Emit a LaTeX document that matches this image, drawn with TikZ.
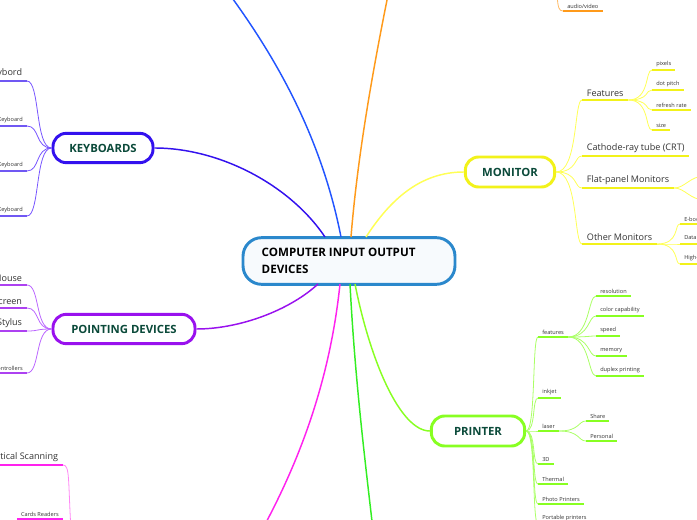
\documentclass[tikz,border=0pt]{standalone}
\usepackage{fontspec}
\setmainfont{Open Sans}
\usetikzlibrary{calc}
\definecolor{ctr}{HTML}{2B88CC}
\definecolor{kb}{HTML}{3311EE}
\definecolor{kbl}{HTML}{7755FF}
\definecolor{pd}{HTML}{9911EE}
\definecolor{pdl}{HTML}{BB66FF}
\definecolor{mo}{HTML}{F2F21A}
\definecolor{mol}{HTML}{FFFF55}
\definecolor{pr}{HTML}{88FF22}
\definecolor{prl}{HTML}{AAFF66}
\definecolor{mg}{HTML}{FF22EE}
\definecolor{mgl}{HTML}{FF88F5}
\definecolor{gr}{HTML}{33EE22}
\definecolor{bl}{HTML}{2255FF}
\definecolor{or}{HTML}{FF9A1A}
\definecolor{orl}{HTML}{FFBB66}
\definecolor{tt}{HTML}{0B4A3A}
\definecolor{lt}{HTML}{333333}
\tikzset{
  title/.style={draw, line width=2.2pt, rounded corners=10pt, fill=white, text=tt,
    font=\fontsize{8.5pt}{10pt}\selectfont\bfseries, inner sep=0pt},
  lab/.style={inner xsep=3.5pt, inner ysep=2pt, text=lt, font=\fontsize{6.8pt}{8pt}\selectfont},
  sml/.style={inner xsep=3pt, inner ysep=2pt, text=lt, font=\fontsize{4.2pt}{5pt}\selectfont},
  ul/.style={line width=1.3pt},
  cn/.style={line width=0.6pt},
  br/.style={line width=1.1pt},
}
\begin{document}
\begin{tikzpicture}[x=0.75pt,y=-0.75pt]
\useasboundingbox (0,0) rectangle (697,520);
% center
\node[draw=ctr, line width=2.2pt, rounded corners=14pt, fill=ctr!4, minimum width=159pt, minimum height=35pt, inner sep=0pt] (c) at (349,261) {};
\node[anchor=west, text=black, font=\fontsize{8.7pt}{12.5pt}\selectfont\bfseries, align=left] (ct) at (257,261) {COMPUTER INPUT OUTPUT\\DEVICES};
% offscreen targets
\coordinate (blT) at (230,-5);
\coordinate (orT) at (388,-5);
\coordinate (mgT) at (262,530);
\coordinate (grT) at (373,530);
% main branches
\draw[br, bl] (341,237) .. controls (320,130) and (270,50) .. (blT);
\draw[br, or] (351,237) .. controls (358,150) and (375,60) .. (orT);
\draw[br, mg] (340,284) .. controls (330,380) and (300,460) .. (mgT);
\draw[br, gr] (350,284) .. controls (355,380) and (365,460) .. (grT);

\node[title, draw=kb, minimum width=75pt, minimum height=22pt] (kbn) at (103,148) {KEYBOARDS};
\node[title, draw=pd, minimum width=106.5pt, minimum height=22pt] (pdn) at (124,329) {POINTING DEVICES};
\node[title, draw=mo, minimum width=67pt, minimum height=22.5pt] (mon) at (510,172) {MONITOR};
\node[title, draw=pr, minimum width=70pt, minimum height=22.5pt] (prn) at (478,431) {PRINTER};

\draw[br, kb] (325,237) .. controls (290,185) and (220,148) .. (kbn.east);
\draw[br, pd] (318,284) .. controls (290,310) and (240,329) .. (pdn.east);
\draw[br, mol] (366,237) .. controls (390,200) and (420,172) .. (mon.west);
\draw[br, pr] (355,284) .. controls (370,360) and (400,431) .. (prn.west);

% keyboards children
\foreach \n/\y/\t/\s in {k1/81/Keybord/lab, k2/126/Keyboard/sml, k3/171/Keyboard/sml, k4/216/Keyboard/sml}{
  \node[\s, anchor=south east] (\n) at (27,\y) {\t};
  \draw[ul, kb!70] (\n.south west) -- (\n.south east);
  \draw[cn, kbl] (kbn.west) .. controls (35,148) and (40,\y) .. (\n.south east);
}
% pointing children
\foreach \n/\y/\t/\s in {p1/285/Mouse/lab, p2/308/Screen/lab, p3/331/Stylus/lab, p4/373/Controllers/sml}{
  \node[\s, anchor=south east] (\n) at (27,\y) {\t};
  \draw[ul, pd!80] (\n.south west) -- (\n.south east);
  \draw[cn, pdl] (pdn.west) .. controls (35,329) and (40,\y) .. (\n.south east);
}
% optical scanning (magenta subtree)
\node[lab, anchor=south east] (os) at (63,465) {Optical Scanning};
\draw[ul, mg] (os.south west) -- (os.south east);
\coordinate (osT) at (71,530);
\draw[cn, mgl] (os.south east) .. controls (70,465) and (68,480) .. (osT);
\node[sml, anchor=south east] (cr) at (63,519) {Cards Readers};
\draw[ul, mg] (cr.south west) -- (cr.south east);

% orange audio/video
\node[sml, anchor=south west] (av) at (563,11) {audio/video};
\draw[ul, or] (av.south west) -- (av.south east);
\coordinate (avT) at (557,-5);
\draw[cn, orl] (avT) .. controls (558,8) and (559,11) .. (av.south west);

% monitor children
\foreach \n/\y/\t in {m1/100/Features, m2/156/Cathode-ray tube (CRT), m3/188/Flat-panel Monitors, m4/244/Other Monitors}{
  \node[lab, anchor=south west] (\n) at (582,\y) {\t};
  \draw[ul, mo] (\n.south west) -- (\n.south east);
  \draw[cn, mol] (mon.east) .. controls (578,172) and (574,\y) .. (\n.south west);
}
\foreach \n/\y/\t in {f1/70/pixels, f2/90/dot pitch, f3/110/refresh rate, f4/130/size}{
  \node[sml, anchor=south west] (\n) at (652,\y) {\t};
  \draw[ul, mo] (\n.south west) -- (\n.south east);
  \draw[cn, mol] (m1.south east) .. controls (650,100) and (645,\y) .. (\n.south west);
}
\coordinate (fp1) at (705,176);
\coordinate (fp2) at (705,200);
\draw[cn, mol] (m3.south east) .. controls (685,188) and (690,176) .. (fp1);
\draw[cn, mol] (m3.south east) .. controls (685,188) and (690,200) .. (fp2);
\foreach \n/\y/\t in {o1/224/E-book readers, o2/244/Data projectors, o3/264/High-definition television}{
  \node[sml, anchor=south west] (\n) at (680,\y) {\t};
  \draw[ul, mo] (\n.south west) -- (\n.south east);
  \draw[cn, mol] (m4.south east) .. controls (680,244) and (674,\y) .. (\n.south west);
}

% printer children
\foreach \n/\y/\t in {q1/337/features, q2/398/inkjet, q3/431/laser, q4/464/3D, q5/484/Thermal, q6/504/Photo Printers, q7/524/Portable printers}{
  \node[sml, anchor=south west] (\n) at (538,\y) {\t};
  \draw[ul, pr] (\n.south west) -- (\n.south east);
  \draw[cn, prl] (prn.east) .. controls (536,431) and (532,\y) .. (\n.south west);
}
\foreach \n/\y/\t in {r1/296/resolution, r2/316/color capability, r3/336/speed, r4/356/memory, r5/376/duplex printing}{
  \node[sml, anchor=south west] (\n) at (596,\y) {\t};
  \draw[ul, pr] (\n.south west) -- (\n.south east);
  \draw[cn, prl] (q1.south east) .. controls (590,337) and (588,\y) .. (\n.south west);
}
\foreach \n/\y/\t in {s1/421/Share, s2/441/Personal}{
  \node[sml, anchor=south west] (\n) at (586,\y) {\t};
  \draw[ul, pr] (\n.south west) -- (\n.south east);
  \draw[cn, prl] (q3.south east) .. controls (580,431) and (578,\y) .. (\n.south west);
}
\end{tikzpicture}
\end{document}
